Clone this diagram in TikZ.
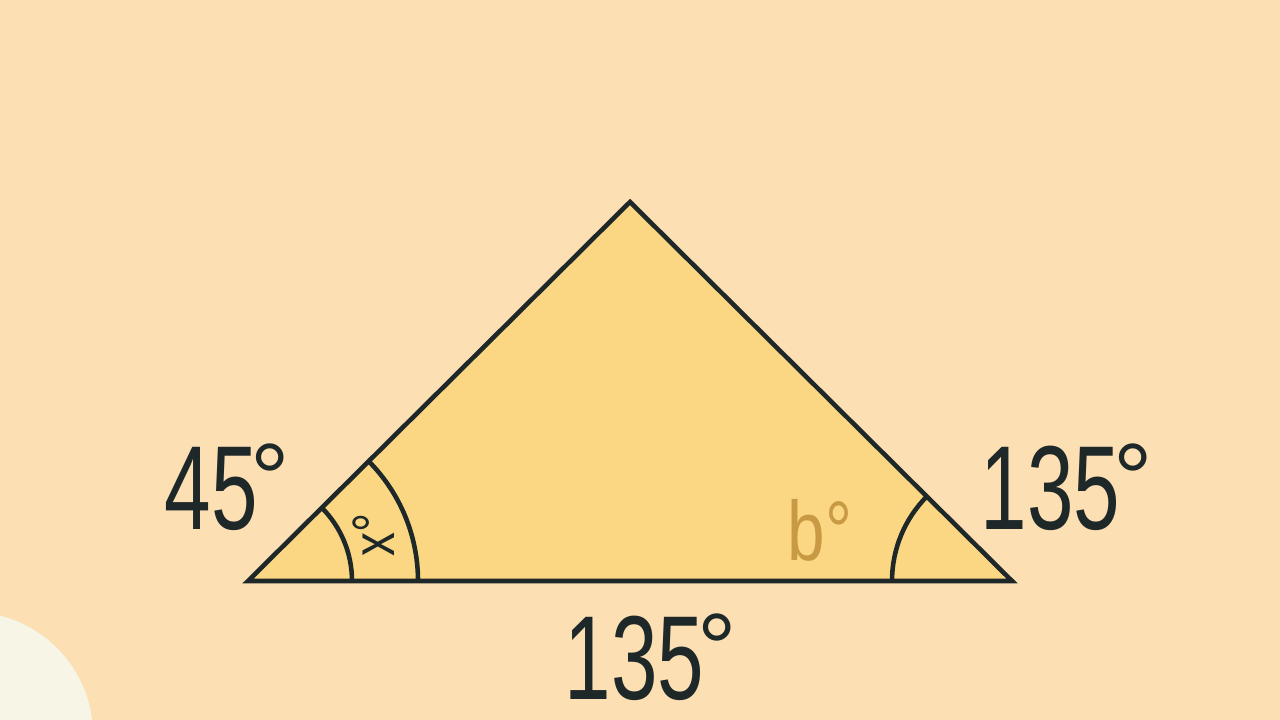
\documentclass[tikz,border=0pt]{standalone}
\usepackage{fontspec}
\setmainfont{Liberation Sans}[FakeStretch=0.80]
\newfontfamily\numfont{Liberation Sans}[FakeStretch=0.70]
\newfontfamily\degfont{Liberation Sans}
\usepackage{xcolor}
\definecolor{peach}{HTML}{FCDFB3}
\definecolor{trifill}{HTML}{FBD784}
\definecolor{inkdark}{HTML}{1E2828}
\definecolor{blob}{HTML}{F6F5E6}
\definecolor{golden}{HTML}{C99A44}
\newcommand{\degmark}{\hspace{-0.06em}\raisebox{0.15em}{\degfont\fontsize{28}{30}\selectfont°}}
\tikzset{
	edgeline/.style={draw=inkdark, line width=1.3pt, line join=miter},
	anglelabel/.style={text=inkdark, font=\numfont\fontsize{34}{36}\selectfont, inner sep=0pt, anchor=base west}
}

\begin{document}
\begin{tikzpicture}
			\fill[peach] (0,0) rectangle (12.8,7.2);
			\useasboundingbox (0,0) rectangle (12.8,7.2);
			\fill[blob] (-0.30,-0.15) circle (1.23);
			\coordinate (L) at (2.48,1.39);
			\coordinate (T) at (6.30,5.18);
			\coordinate (R) at (10.12,1.39);
			\filldraw[fill=trifill, edgeline] (L) -- (T) -- (R) -- cycle;
			\draw[edgeline] ([shift={(0:1.04)}]L) arc (0:45:1.04);
			\draw[edgeline] ([shift={(0:1.70)}]L) arc (0:45:1.70);
			\draw[edgeline] ([shift={(180:1.20)}]R) arc (180:135:1.20);
			\node[anglelabel] (leftlbl) at (1.64,1.90) {45\degmark};
			\node[anglelabel] (rightlbl) at (9.80,1.90) {135\degmark};
			\node[anglelabel] (baselbl) at (5.64,0.20) {135\degmark};
			\node[text=inkdark, rotate=90, font=\fontsize{17}{18}\selectfont] (xlbl) at (3.74,1.85) {x°};
			\node[text=golden, font=\fontsize{24}{26}\selectfont] (blbl) at (8.20,1.90) {b°};
		\end{tikzpicture}
\end{document}
